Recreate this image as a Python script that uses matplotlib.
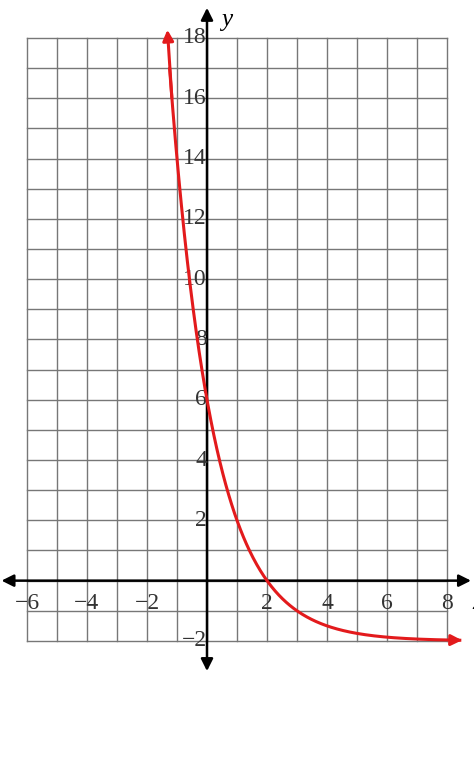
import numpy as np
import matplotlib.pyplot as plt
from matplotlib.patches import FancyArrowPatch

# curve: y = a * b**x + c
coef_a = 8.0
base_b = 0.5
asym_c = -2.0
x_start, x_end = -1.32, 8.5

x_ticks = [-6, -4, -2, 2, 4, 6, 8]
y_ticks = [-2, 2, 4, 6, 8, 10, 12, 14, 16, 18]

plt.rcParams['font.family'] = ['Liberation Serif', 'DejaVu Serif']
fig = plt.figure(figsize=(4.74, 7.76), dpi=100)
ax = fig.add_axes([0, 0, 1, 1])
ax.set_xlim(-6.9, 8.9)
ax.set_ylim(-6.48, 19.26)
ax.axis('off')

for gx in range(-6, 9):
    ax.plot([gx, gx], [-2, 18], color='#777777', lw=1, zorder=1)
for gy in range(-2, 19):
    ax.plot([-6, 8], [gy, gy], color='#777777', lw=1, zorder=1)

ar = dict(arrowstyle='<|-|>', mutation_scale=18, color='black', lw=1.8, shrinkA=0, shrinkB=0)
ax.add_patch(FancyArrowPatch((-6.85, 0), (8.8, 0), **ar, zorder=3))
ax.add_patch(FancyArrowPatch((0, -3.0), (0, 19.0), **ar, zorder=3))

for t in x_ticks:
    ax.text(t, -0.4, f"\u2212{abs(t)}" if t < 0 else str(t), ha='center', va='top', fontsize=17, color='#333333', zorder=4)
for t in y_ticks:
    ax.text(0.0, t, f"\u2212{abs(t)}" if t < 0 else str(t), ha='right', va='center', fontsize=17, color='#333333', zorder=4)
ax.text(0.65, 18.6, 'y', fontsize=18, style='italic', ha='center', va='center')
ax.text(8.85, -0.75, 'x', fontsize=18, style='italic', ha='left', va='center')

xs = np.linspace(x_start, x_end, 400)
ys = coef_a * base_b ** xs + asym_c
ax.plot(xs[3:-3], ys[3:-3], color='#e31a1c', lw=2.2, zorder=5)
ra = dict(arrowstyle='-|>', mutation_scale=16, color='#e31a1c', lw=2.2, shrinkA=0, shrinkB=0)
ax.add_patch(FancyArrowPatch((xs[6], ys[6]), (xs[0], ys[0] + 0.3), **ra, zorder=5))
ax.add_patch(FancyArrowPatch((xs[-10], ys[-10]), (xs[-1], ys[-1]), **ra, zorder=5))

fig.savefig('out.png', dpi=100)
